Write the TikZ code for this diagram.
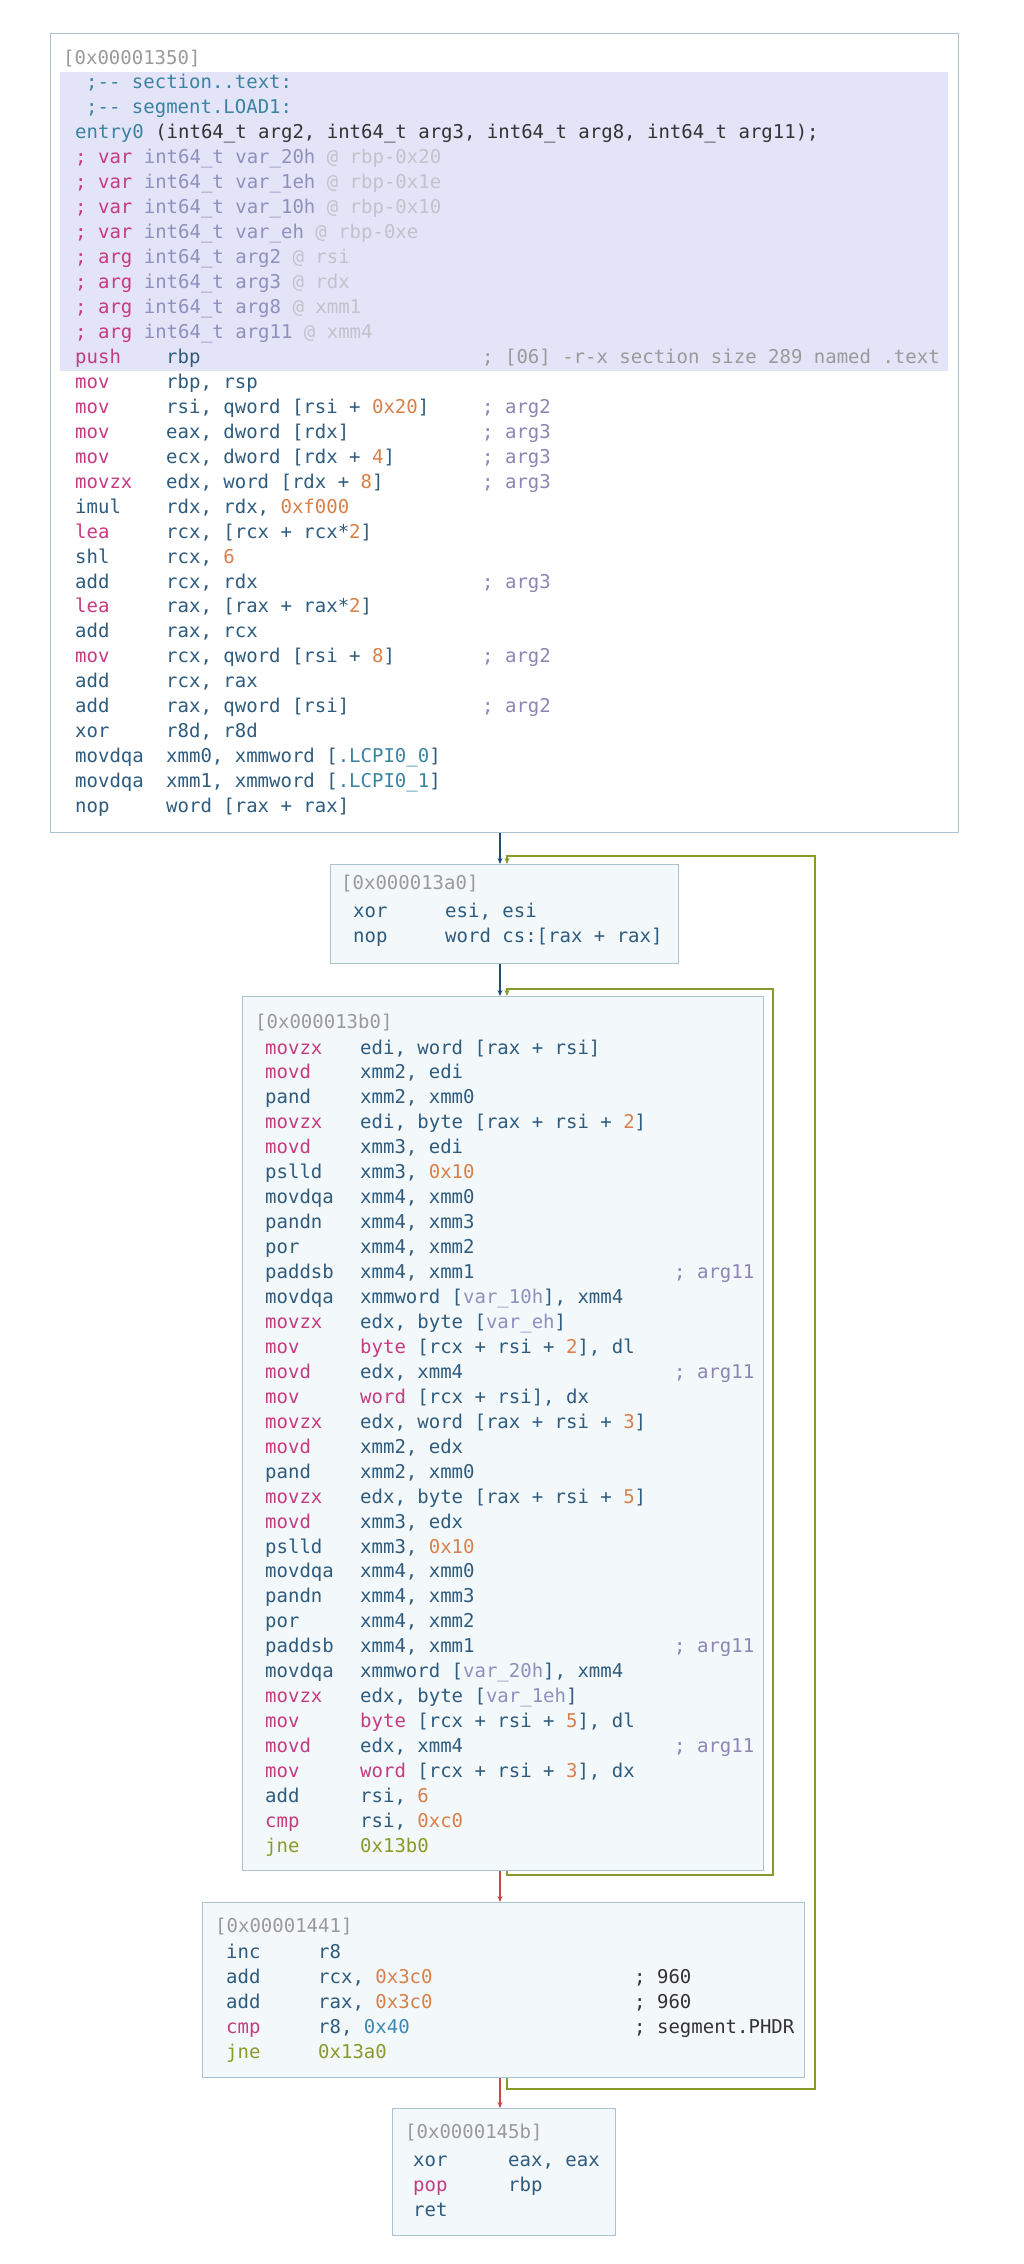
\documentclass[tikz,border=0pt]{standalone}
\usepackage{fontspec}
\setmonofont{DejaVu Sans Mono}
\usetikzlibrary{arrows.meta}
\definecolor{cmag}{HTML}{C63C82}
\definecolor{cblu}{HTML}{2F5C7E}
\definecolor{cnum}{HTML}{D8804A}
\definecolor{ccom}{HTML}{8C86B4}
\definecolor{chdr}{HTML}{9A9A9A}
\definecolor{cteal}{HTML}{3A84A2}
\definecolor{cgrn}{HTML}{8A9A2A}
\definecolor{clgt}{HTML}{C2C2CC}
\definecolor{cvar}{HTML}{8E90BE}
\definecolor{chl}{HTML}{E4E4F8}
\definecolor{cbox}{HTML}{A9C3D0}
\definecolor{cfill}{HTML}{F3F8FB}
\definecolor{cred}{HTML}{C84848}
\definecolor{cdk}{HTML}{1F4E78}
\definecolor{cnb}{HTML}{3A8AB0}
\newcounter{ln}
\newcommand{\Mg}[1]{\textcolor{cmag}{#1}}
\newcommand{\Nm}[1]{\textcolor{cnum}{#1}}
\newcommand{\Cm}[1]{\textcolor{ccom}{#1}}
\newcommand{\Tl}[1]{\textcolor{cteal}{#1}}
\newcommand{\Gr}[1]{\textcolor{cgrn}{#1}}
\newcommand{\Vr}[1]{\textcolor{cvar}{#1}}
\newcommand{\Lg}[1]{\textcolor{clgt}{#1}}
\newcommand{\Tx}[3]{\stepcounter{ln}\node[txt] (t\arabic{ln}) at (#1,{#2}) {#3};}
% row: y, xm, mnem, xo, operands, xc, comment
\newcommand{\Rw}[7]{\Tx{#2}{#1}{#3}\Tx{#4}{#1}{#5}\Tx{#6}{#1}{#7}}
\newcommand{\A}[1]{89+24.95*#1}
\newcommand{\B}[1]{1054+24.95*#1}
\begin{document}
\begin{tikzpicture}[x=1pt,y=-1pt,
  txt/.style={anchor=base west,inner sep=0pt,font=\ttfamily\fontsize{19}{20}\selectfont,text=cblu},
  blk/.style={draw=cbox,line width=1.2pt,fill=cfill,anchor=north west,inner sep=0pt},
  lnk/.style={line width=1.6pt,-{Stealth[length=6pt,width=5pt]}},
  back/.style={draw=cgrn,line width=1.8pt,-{Stealth[length=6pt,width=5pt]}}]
\useasboundingbox (0,0) rectangle (1024,2264);
\fill[white] (0,0) rectangle (1024,2264);
% boxes
\node[blk,fill=white,minimum width=908pt,minimum height=799pt] (b1) at (50,33) {};
\fill[chl] (60,72) rectangle (948,371);
\node[blk,minimum width=348pt,minimum height=99pt] (b2) at (330,864) {};
\node[blk,minimum width=521pt,minimum height=874pt] (b3) at (242,996) {};
\node[blk,minimum width=602pt,minimum height=175pt] (b4) at (202,1902) {};
\node[blk,minimum width=223pt,minimum height=127pt] (b5) at (392,2108) {};
\coordinate (ax) at (500,0);
\coordinate (gx) at (507,0);
% connectors
\draw[lnk,cdk,line width=2.4pt] (b1.south -| ax) -- (b2.north -| ax);
\draw[lnk,cdk] (b2.south -| ax) -- (b3.north -| ax);
\draw[lnk,cred] (b3.south -| ax) -- (b4.north -| ax);
\draw[lnk,cred] (b4.south -| ax) -- (b5.north -| ax);
\draw[back] (b4.south -| gx) -- ++(0,11) -| (815,856) -| (b2.north -| gx);
\draw[back] (b3.south -| gx) -- ++(0,4) -| (773,989) -| (b3.north -| gx);
% box 1
\Tx{63}{65}{\textcolor{chdr}{[0x00001350]}}
\Tx{86}{\A0}{\Tl{;-- section..text:}}
\Tx{86}{\A1}{\Tl{;-- segment.LOAD1:}}
\Tx{75}{\A2}{\Tl{entry0} \textcolor{black!80}{(int64\_t arg2, int64\_t arg3, int64\_t arg8, int64\_t arg11);}}
\Tx{75}{\A3}{\Mg{; var} \Vr{int64\_t var\_20h} \Lg{@ rbp-0x20}}
\Tx{75}{\A4}{\Mg{; var} \Vr{int64\_t var\_1eh} \Lg{@ rbp-0x1e}}
\Tx{75}{\A5}{\Mg{; var} \Vr{int64\_t var\_10h} \Lg{@ rbp-0x10}}
\Tx{75}{\A6}{\Mg{; var} \Vr{int64\_t var\_eh} \Lg{@ rbp-0xe}}
\Tx{75}{\A7}{\Mg{; arg} \Vr{int64\_t arg2} \Lg{@ rsi}}
\Tx{75}{\A8}{\Mg{; arg} \Vr{int64\_t arg3} \Lg{@ rdx}}
\Tx{75}{\A9}{\Mg{; arg} \Vr{int64\_t arg8} \Lg{@ xmm1}}
\Tx{75}{\A{10}}{\Mg{; arg} \Vr{int64\_t arg11} \Lg{@ xmm4}}
\Rw{\A{11}}{75}{\Mg{push}}{166}{rbp}{482}{\textcolor{chdr}{; [06] -r-x section size 289 named .text}}
\Rw{\A{12}}{75}{\Mg{mov}}{166}{rbp, rsp}{482}{}
\Rw{\A{13}}{75}{\Mg{mov}}{166}{rsi, qword [rsi + \Nm{0x20}]}{482}{\Cm{; arg2}}
\Rw{\A{14}}{75}{\Mg{mov}}{166}{eax, dword [rdx]}{482}{\Cm{; arg3}}
\Rw{\A{15}}{75}{\Mg{mov}}{166}{ecx, dword [rdx + \Nm{4}]}{482}{\Cm{; arg3}}
\Rw{\A{16}}{75}{\Mg{movzx}}{166}{edx, word [rdx + \Nm{8}]}{482}{\Cm{; arg3}}
\Rw{\A{17}}{75}{imul}{166}{rdx, rdx, \Nm{0xf000}}{482}{}
\Rw{\A{18}}{75}{\Mg{lea}}{166}{rcx, [rcx + rcx*\Nm{2}]}{482}{}
\Rw{\A{19}}{75}{shl}{166}{rcx, \Nm{6}}{482}{}
\Rw{\A{20}}{75}{add}{166}{rcx, rdx}{482}{\Cm{; arg3}}
\Rw{\A{21}}{75}{\Mg{lea}}{166}{rax, [rax + rax*\Nm{2}]}{482}{}
\Rw{\A{22}}{75}{add}{166}{rax, rcx}{482}{}
\Rw{\A{23}}{75}{\Mg{mov}}{166}{rcx, qword [rsi + \Nm{8}]}{482}{\Cm{; arg2}}
\Rw{\A{24}}{75}{add}{166}{rcx, rax}{482}{}
\Rw{\A{25}}{75}{add}{166}{rax, qword [rsi]}{482}{\Cm{; arg2}}
\Rw{\A{26}}{75}{xor}{166}{r8d, r8d}{482}{}
\Rw{\A{27}}{75}{movdqa}{166}{xmm0, xmmword [\Tl{.LCPI0\_0}]}{482}{}
\Rw{\A{28}}{75}{movdqa}{166}{xmm1, xmmword [\Tl{.LCPI0\_1}]}{482}{}
\Rw{\A{29}}{75}{nop}{166}{word [rax + rax]}{482}{}
% box 2
\Tx{341}{889}{\textcolor{chdr}{[0x000013a0]}}
\Rw{917}{353}{xor}{445}{esi, esi}{600}{}
\Rw{942}{353}{nop}{445}{word cs:[rax + rax]}{600}{}
% box 3
\Tx{255}{1028}{\textcolor{chdr}{[0x000013b0]}}
\Rw{\B0}{265}{\Mg{movzx}}{360}{edi, word [rax + rsi]}{674}{}
\Rw{\B1}{265}{\Mg{movd}}{360}{xmm2, edi}{674}{}
\Rw{\B2}{265}{pand}{360}{xmm2, xmm0}{674}{}
\Rw{\B3}{265}{\Mg{movzx}}{360}{edi, byte [rax + rsi + \Nm{2}]}{674}{}
\Rw{\B4}{265}{\Mg{movd}}{360}{xmm3, edi}{674}{}
\Rw{\B5}{265}{pslld}{360}{xmm3, \Nm{0x10}}{674}{}
\Rw{\B6}{265}{movdqa}{360}{xmm4, xmm0}{674}{}
\Rw{\B7}{265}{pandn}{360}{xmm4, xmm3}{674}{}
\Rw{\B8}{265}{por}{360}{xmm4, xmm2}{674}{}
\Rw{\B9}{265}{paddsb}{360}{xmm4, xmm1}{674}{\Cm{; arg11}}
\Rw{\B{10}}{265}{movdqa}{360}{xmmword [\Vr{var\_10h}], xmm4}{674}{}
\Rw{\B{11}}{265}{\Mg{movzx}}{360}{edx, byte [\Vr{var\_eh}]}{674}{}
\Rw{\B{12}}{265}{\Mg{mov}}{360}{\Mg{byte} [rcx + rsi + \Nm{2}], dl}{674}{}
\Rw{\B{13}}{265}{\Mg{movd}}{360}{edx, xmm4}{674}{\Cm{; arg11}}
\Rw{\B{14}}{265}{\Mg{mov}}{360}{\Mg{word} [rcx + rsi], dx}{674}{}
\Rw{\B{15}}{265}{\Mg{movzx}}{360}{edx, word [rax + rsi + \Nm{3}]}{674}{}
\Rw{\B{16}}{265}{\Mg{movd}}{360}{xmm2, edx}{674}{}
\Rw{\B{17}}{265}{pand}{360}{xmm2, xmm0}{674}{}
\Rw{\B{18}}{265}{\Mg{movzx}}{360}{edx, byte [rax + rsi + \Nm{5}]}{674}{}
\Rw{\B{19}}{265}{\Mg{movd}}{360}{xmm3, edx}{674}{}
\Rw{\B{20}}{265}{pslld}{360}{xmm3, \Nm{0x10}}{674}{}
\Rw{\B{21}}{265}{movdqa}{360}{xmm4, xmm0}{674}{}
\Rw{\B{22}}{265}{pandn}{360}{xmm4, xmm3}{674}{}
\Rw{\B{23}}{265}{por}{360}{xmm4, xmm2}{674}{}
\Rw{\B{24}}{265}{paddsb}{360}{xmm4, xmm1}{674}{\Cm{; arg11}}
\Rw{\B{25}}{265}{movdqa}{360}{xmmword [\Vr{var\_20h}], xmm4}{674}{}
\Rw{\B{26}}{265}{\Mg{movzx}}{360}{edx, byte [\Vr{var\_1eh}]}{674}{}
\Rw{\B{27}}{265}{\Mg{mov}}{360}{\Mg{byte} [rcx + rsi + \Nm{5}], dl}{674}{}
\Rw{\B{28}}{265}{\Mg{movd}}{360}{edx, xmm4}{674}{\Cm{; arg11}}
\Rw{\B{29}}{265}{\Mg{mov}}{360}{\Mg{word} [rcx + rsi + \Nm{3}], dx}{674}{}
\Rw{\B{30}}{265}{add}{360}{rsi, \Nm{6}}{674}{}
\Rw{\B{31}}{265}{\Mg{cmp}}{360}{rsi, \Nm{0xc0}}{674}{}
\Rw{\B{32}}{265}{\Gr{jne}}{360}{\Gr{0x13b0}}{674}{}
% box 4
\Tx{215}{1932}{\textcolor{chdr}{[0x00001441]}}
\Rw{1958}{226}{inc}{318}{r8}{634}{}
\Rw{1983}{226}{add}{318}{rcx, \Nm{0x3c0}}{634}{\textcolor{black!80}{; 960}}
\Rw{2008}{226}{add}{318}{rax, \Nm{0x3c0}}{634}{\textcolor{black!80}{; 960}}
\Rw{2033}{226}{\Mg{cmp}}{318}{r8, \textcolor{cnb}{0x40}}{634}{\textcolor{black!80}{; segment.PHDR}}
\Rw{2058}{226}{\Gr{jne}}{318}{\Gr{0x13a0}}{634}{}
% box 5
\Tx{405}{2138}{\textcolor{chdr}{[0x0000145b]}}
\Rw{2166}{413}{xor}{508}{eax, eax}{600}{}
\Rw{2191}{413}{\Mg{pop}}{508}{rbp}{600}{}
\Rw{2216}{413}{ret}{508}{}{600}{}
\end{tikzpicture}
\end{document}
